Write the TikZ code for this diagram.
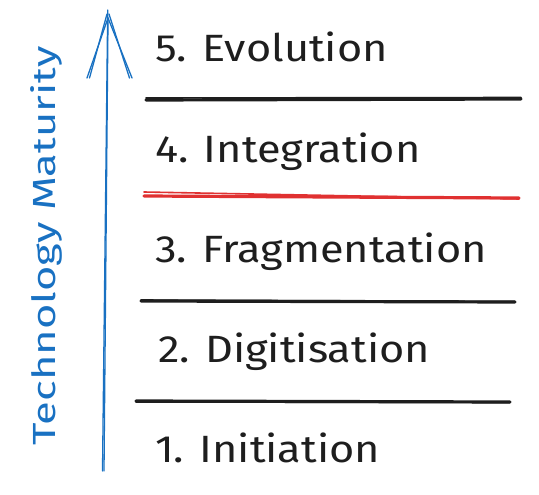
\documentclass[tikz,border=0pt]{standalone}
\usepackage{fontspec}
\setmainfont{Fira Sans}
\definecolor{ink}{HTML}{1E1E1E}
\definecolor{sketchblue}{HTML}{1971C2}
\definecolor{sketchred}{HTML}{E03131}
\newcommand{\wideA}[1]{\scalebox{1.14}[1]{#1}}
\newcommand{\wideB}[1]{\scalebox{1.36}[1]{#1}}
\tikzset{
  stage/.style={anchor=base west, inner sep=0pt, text=ink, font=\fontsize{38}{40}\selectfont},
  rule/.style={line width=3.2pt, line cap=round},
  rulethin/.style={line width=1.6pt, line cap=round},
  arrowline/.style={draw=sketchblue, line width=1.3pt, line cap=round},
}
\begin{document}
\begin{tikzpicture}[x=1pt,y=-1pt]
\useasboundingbox (0,0) rectangle (539,495);
% stage labels
\node[stage] (s5) at (155,62) {\wideA{5. Evolution}};
\node[stage] (s4) at (155,162) {\wideA{4. Integration}};
\node[stage] (s3) at (155,262) {\wideA{3. Fragmentation}};
\node[stage] (s2) at (158,362) {\wideA{2. Digitisation}};
\node[stage] (s1) at (155,462) {\wideA{1. Initiation}};
% separator lines
\coordinate (l1a) at (146,100); \coordinate (l1b) at (521,99);
\coordinate (l2a) at (144,196); \coordinate (l2b) at (519,198);
\coordinate (l3a) at (141,301); \coordinate (l3b) at (515,302);
\coordinate (l4a) at (136,401); \coordinate (l4b) at (510,402);
\draw[rule, ink] (l1a) -- (l1b);
\draw[rulethin, ink] ([yshift=2pt]l1a) -- ([yshift=1.5pt]l1b);
\draw[rule, sketchred] (l2a) -- (l2b);
\draw[rulethin, sketchred] ([yshift=4pt]l2a) -- ([yshift=-1pt]l2b);
\draw[rule, ink] (l3a) -- (l3b);
\draw[rulethin, ink] ([yshift=1pt]l3a) -- ([yshift=0.5pt]l3b);
\draw[rule, ink] (l4a) -- (l4b);
\draw[rulethin, ink] ([yshift=-1pt]l4a) -- ([yshift=-0.5pt]l4b);
% axis arrow
\coordinate (tip) at (108,18);
\coordinate (base) at (104,471);
\coordinate (barbL) at (87,78);
\coordinate (barbR) at (132,78);
\draw[arrowline] (base) -- (tip);
\draw[arrowline] ([xshift=-1.5pt]base) -- ([xshift=-0.3pt,yshift=8pt]tip);
\draw[arrowline] (tip) -- (barbL);
\draw[arrowline] ([xshift=-1pt,yshift=4pt]tip) -- ([xshift=2.5pt]barbL);
\draw[arrowline] (tip) -- (barbR);
\draw[arrowline] ([xshift=1pt,yshift=4pt]tip) -- ([xshift=-2.5pt]barbR);
% axis label
\node[rotate=90, anchor=base, inner sep=0pt, text=sketchblue,
      font=\fontsize{32}{34}\selectfont] (axis) at (56,246) {\wideB{Technology Maturity}};
\end{tikzpicture}
\end{document}
